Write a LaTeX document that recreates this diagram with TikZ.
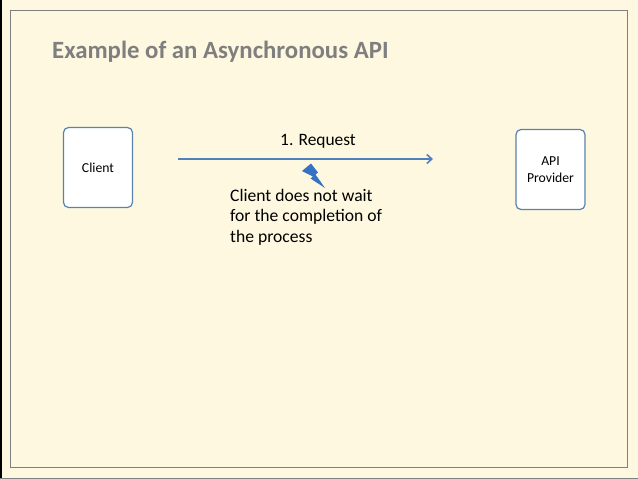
\documentclass[tikz,border=0pt]{standalone}
\usepackage{fontspec}
\setmainfont{Carlito}
\usetikzlibrary{arrows.meta}

\definecolor{cream}{HTML}{FEF8E0}
\definecolor{framegray}{HTML}{7F7F7F}
\definecolor{boxblue}{HTML}{5B82AD}
\definecolor{arrowblue}{HTML}{4F81BD}
\definecolor{boltblue}{HTML}{3572C6}

\tikzset{
  party/.style={draw=boxblue, line width=1.2pt, fill=white, rounded corners=5pt,
    minimum width=69pt, minimum height=80pt, align=center,
    font=\fontsize{13.7}{17}\selectfont},
}

\begin{document}
\begin{tikzpicture}[x=1pt,y=-1pt]
      \fill[cream] (0,0) rectangle (638,479);
      \useasboundingbox (0,0) rectangle (638,479);
      \draw[black, line width=1.5pt] (0.75,0) -- (0.75,479);
      \draw[framegray, line width=0.8pt] (0,478) -- (638,478);
      \draw[framegray, line width=1pt] (10,10) rectangle (627,467);
      \node[anchor=base west, inner sep=0, text=framegray,
        font=\fontsize{24.8}{29}\selectfont\bfseries] (title) at (52,58.3) {Example of an Asynchronous API};
      \node[party] (client) at (98,167.5) {Client};
      \node[party] (provider) at (550.5,169.5) {API\\Provider};
      \coordinate (reqstart) at (178,159);
      \coordinate (reqend) at (433,159);
      \draw[arrowblue, line width=1.6pt, -{Straight Barb[length=5pt,width=9pt]}] (reqstart) -- (reqend);
      \node[font=\fontsize{17.4}{20.5}\selectfont] (request) at (318,141) {1. Request};
      \fill[boltblue] (302,171) -- (311,163.5) -- (318,172.5) -- (315.5,174.5) -- (325,188)
        -- (310.5,178.5) -- (313,176.5) -- cycle;
      \node[anchor=north west, inner sep=0, align=left,
        font=\fontsize{17.6}{20.5}\selectfont] (note) at (230,189)
        {Client does not wait\\for the completion of\\the process};
    \end{tikzpicture}
\end{document}
